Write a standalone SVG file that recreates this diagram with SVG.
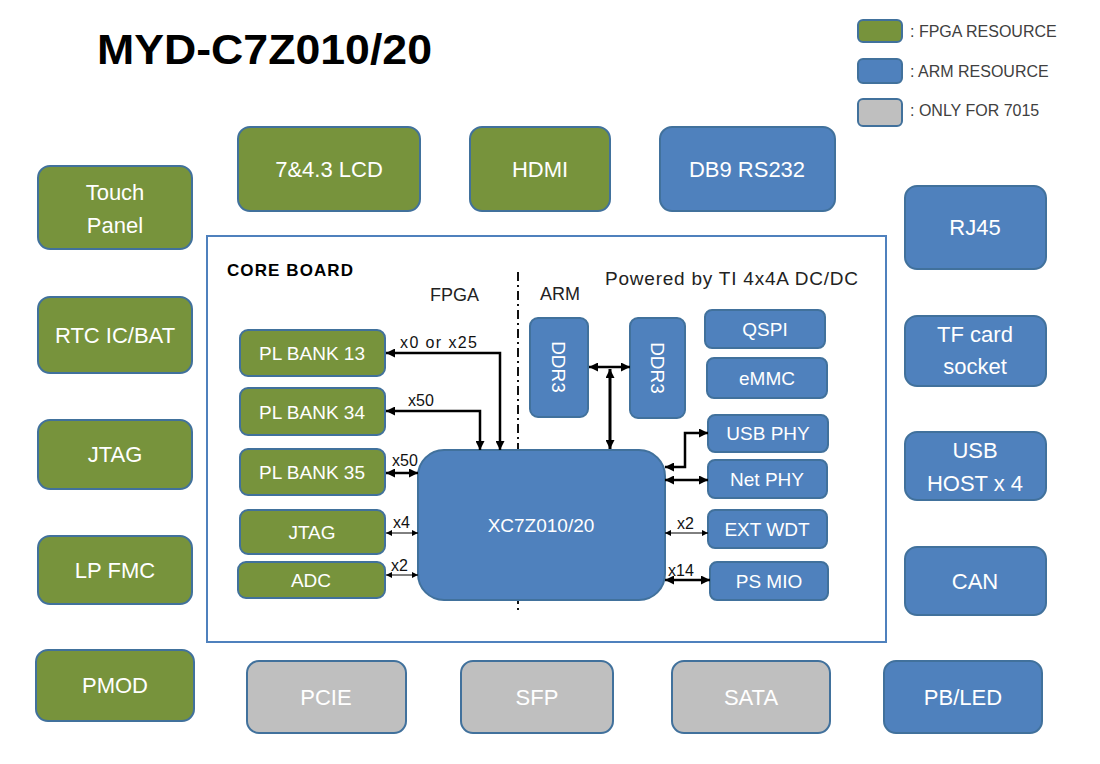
<svg xmlns="http://www.w3.org/2000/svg" width="1100" height="764" viewBox="0 0 1100 764">
<style>
.g{fill:#77933C;stroke:#41719C;stroke-width:2}
.b{fill:#4F81BD;stroke:#41719C;stroke-width:2}
.y{fill:#BFBFBF;stroke:#41719C;stroke-width:2}
.t{font-family:"Liberation Sans",Arial,sans-serif;fill:#fff;text-anchor:middle;font-size:22px}
.s{font-family:"Liberation Sans",Arial,sans-serif;fill:#fff;text-anchor:middle;font-size:19px}
.l{font-family:"Liberation Sans",Arial,sans-serif;fill:#404040;font-size:16px}
.k{font-family:"Liberation Sans",Arial,sans-serif;fill:#111;font-size:16px}
.thick{fill:none;stroke:#000;stroke-width:2.5;marker-start:url(#a);marker-end:url(#a)}
.thin{fill:none;stroke:#000;stroke-width:1;marker-start:url(#as);marker-end:url(#as)}
</style>
<defs>
<marker id="a" viewBox="0 0 10 10" refX="10" refY="5" markerWidth="9" markerHeight="9" markerUnits="userSpaceOnUse" orient="auto-start-reverse"><path d="M0,0 L10,5 L0,10 z" fill="#000"/></marker>
<marker id="as" viewBox="0 0 10 10" refX="10" refY="5" markerWidth="6" markerHeight="6" markerUnits="userSpaceOnUse" orient="auto-start-reverse"><path d="M0,0 L10,5 L0,10 z" fill="#000"/></marker>
</defs>
<rect width="1100" height="764" fill="#fff"/>
<text x="97" y="64" font-family="'Liberation Sans',Arial,sans-serif" font-weight="bold" font-size="43" fill="#000" textLength="335" lengthAdjust="spacingAndGlyphs">MYD-C7Z010/20</text>
<g id="legend">
<rect class="g" x="858" y="20" width="44" height="22" rx="5"/>
<text class="l" x="910" y="37">: FPGA RESOURCE</text>
<rect class="b" x="858" y="59" width="44" height="24" rx="5"/>
<text class="l" x="910" y="77">: ARM RESOURCE</text>
<rect class="y" x="858" y="99" width="44" height="27" rx="5"/>
<text class="l" x="910" y="116">: ONLY FOR 7015</text>
</g>
<g id="touch"><rect class="g" x="38" y="166" width="154" height="83" rx="12"/><text class="t" x="115" y="200">Touch</text><text class="t" x="115" y="233">Panel</text></g>
<g id="rtc"><rect class="g" x="38" y="297" width="154" height="76" rx="12"/><text class="t" x="115" y="343">RTC IC/BAT</text></g>
<g id="jtag-ext"><rect class="g" x="38" y="420" width="154" height="69" rx="12"/><text class="t" x="115" y="462">JTAG</text></g>
<g id="lpfmc"><rect class="g" x="38" y="536" width="154" height="68" rx="12"/><text class="t" x="115" y="578">LP FMC</text></g>
<g id="pmod"><rect class="g" x="36" y="650" width="158" height="71" rx="12"/><text class="t" x="115" y="693">PMOD</text></g>
<g id="lcd"><rect class="g" x="238" y="127" width="182" height="84" rx="12"/><text class="t" x="329" y="177">7&amp;4.3 LCD</text></g>
<g id="hdmi"><rect class="g" x="470" y="127" width="140" height="84" rx="12"/><text class="t" x="540" y="177">HDMI</text></g>
<g id="db9"><rect class="b" x="660" y="127" width="175" height="84" rx="12"/><text class="t" x="747" y="177">DB9 RS232</text></g>
<g id="rj45"><rect class="b" x="905" y="186" width="141" height="83" rx="12"/><text class="t" x="975" y="235">RJ45</text></g>
<g id="tf"><rect class="b" x="905" y="316" width="141" height="70" rx="12"/><text class="t" x="975" y="342">TF card</text><text class="t" x="975" y="374">socket</text></g>
<g id="usbhost"><rect class="b" x="905" y="432" width="141" height="68" rx="12"/><text class="t" x="975" y="458">USB</text><text class="t" x="975" y="491">HOST x 4</text></g>
<g id="can"><rect class="b" x="905" y="547" width="141" height="68" rx="12"/><text class="t" x="975" y="589">CAN</text></g>
<g id="pbled"><rect class="b" x="884" y="661" width="158" height="72" rx="12"/><text class="t" x="963" y="705">PB/LED</text></g>
<g id="pcie"><rect class="y" x="247" y="661" width="159" height="72" rx="12"/><text class="t" x="326" y="705">PCIE</text></g>
<g id="sfp"><rect class="y" x="461" y="661" width="152" height="72" rx="12"/><text class="t" x="537" y="705">SFP</text></g>
<g id="sata"><rect class="y" x="672" y="661" width="158" height="72" rx="12"/><text class="t" x="751" y="705">SATA</text></g>
<g id="coreboard">
<rect x="207" y="236" width="679" height="406" fill="none" stroke="#4F81BD" stroke-width="2"/>
<text x="227" y="276" font-family="'Liberation Sans',Arial,sans-serif" font-weight="bold" font-size="17" fill="#000" textLength="126">CORE BOARD</text>
<text x="430" y="301" font-family="'Liberation Sans',Arial,sans-serif" font-size="18" fill="#222">FPGA</text>
<text x="540" y="300" font-family="'Liberation Sans',Arial,sans-serif" font-size="18" fill="#222">ARM</text>
<text x="605" y="285" font-family="'Liberation Sans',Arial,sans-serif" font-size="19" fill="#222" textLength="253">Powered by TI 4x4A DC/DC</text>
<line x1="518" y1="272" x2="518" y2="612" stroke="#111" stroke-width="2" stroke-dasharray="9 4 2 4"/>
</g>
<g id="plbank13"><rect class="g" x="240" y="330" width="145" height="46" rx="8"/><text class="s" x="312" y="360">PL BANK 13</text></g>
<g id="plbank34"><rect class="g" x="240" y="388" width="145" height="47" rx="8"/><text class="s" x="312" y="419">PL BANK 34</text></g>
<g id="plbank35"><rect class="g" x="240" y="449" width="145" height="46" rx="8"/><text class="s" x="312" y="479">PL BANK 35</text></g>
<g id="jtag"><rect class="g" x="240" y="510" width="145" height="44" rx="8"/><text class="s" x="312" y="539">JTAG</text></g>
<g id="adc"><rect class="g" x="238" y="562" width="147" height="36" rx="8"/><text class="s" x="311" y="587">ADC</text></g>
<g id="soc"><rect class="b" x="418" y="450" width="247" height="150" rx="26"/><text class="s" x="541" y="532">XC7Z010/20</text></g>
<g id="ddr3a"><rect class="b" x="530" y="318" width="58" height="99" rx="8"/><text class="s" transform="translate(552,367) rotate(90)" x="0" y="0">DDR3</text></g>
<g id="ddr3b"><rect class="b" x="630" y="318" width="55" height="100" rx="8"/><text class="s" transform="translate(651,368) rotate(90)" x="0" y="0">DDR3</text></g>
<g id="qspi"><rect class="b" x="705" y="310" width="120" height="38" rx="7"/><text class="s" x="765" y="336">QSPI</text></g>
<g id="emmc"><rect class="b" x="707" y="358" width="120" height="40" rx="7"/><text class="s" x="767" y="385">eMMC</text></g>
<g id="usbphy"><rect class="b" x="708" y="415" width="120" height="37" rx="7"/><text class="s" x="768" y="440">USB PHY</text></g>
<g id="netphy"><rect class="b" x="708" y="460" width="119" height="38" rx="7"/><text class="s" x="767" y="486">Net PHY</text></g>
<g id="extwdt"><rect class="b" x="708" y="510" width="119" height="38" rx="7"/><text class="s" x="767" y="536">EXT WDT</text></g>
<g id="psmio"><rect class="b" x="710" y="562" width="118" height="38" rx="7"/><text class="s" x="769" y="588">PS MIO</text></g>
<g id="connectors">
<path class="thick" d="M500 450 V353 H386"/>
<path class="thick" d="M480 450 V411 H386"/>
<path class="thick" d="M386 473 H418"/>
<path class="thin" d="M386 533 H418"/>
<path class="thin" d="M386 575 H418"/>
<path class="thick" d="M589 367 H630"/>
<path class="thick" style="stroke-width:3" d="M610 369 V449"/>
<path class="thick" d="M665 467 H685 V433 H708"/>
<path class="thick" d="M665 480 H708"/>
<path class="thin" d="M665 533 H708"/>
<path class="thick" d="M665 580 H710"/>
<text class="k" x="400" y="348" textLength="77">x0 or x25</text>
<text class="k" x="408" y="406">x50</text>
<text class="k" x="392" y="466">x50</text>
<text class="k" x="393" y="528">x4</text>
<text class="k" x="391" y="571">x2</text>
<text class="k" x="677" y="529">x2</text>
<text class="k" x="668" y="576">x14</text>
</g>
</svg>
